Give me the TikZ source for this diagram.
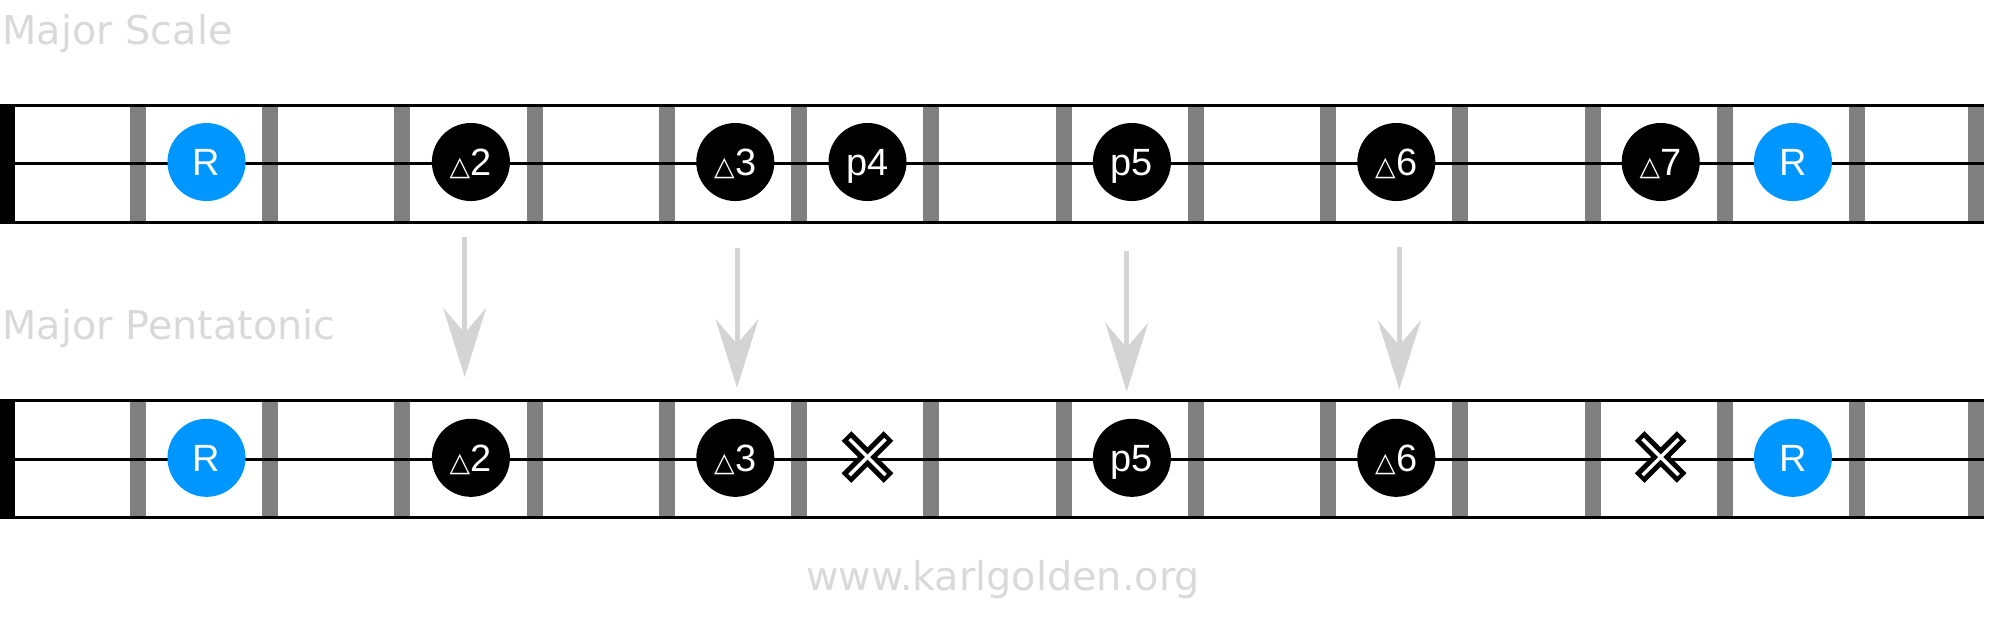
\documentclass[tikz,border=0pt]{standalone}
\usepackage{fontspec}
\setmainfont{Liberation Sans}
\newfontfamily\labelfont{DejaVu Sans}
\newfontfamily\trifont{DejaVu Sans}
\usetikzlibrary{arrows.meta}
\definecolor{rootblue}{RGB}{0,150,255}
\definecolor{fretgray}{RGB}{128,128,128}
\definecolor{lightgray}{RGB}{217,217,217}
\definecolor{arrowgray}{RGB}{212,212,212}
\newcommand\tri{{\trifont\fontsize{7.6pt}{8pt}\selectfont △}\kern0.2pt}
\begin{document}
\begin{tikzpicture}[x=0.01cm,y=-0.01cm,
  string/.style={line width=0.854pt, black},
  fret/.style={fretgray, line width=4.55pt},
  note/.style={circle, fill=black, minimum size=0.78cm, inner sep=0pt, text=white,
    font=\fontsize{10.8pt}{12pt}\selectfont, text height=7.75pt, text depth=0pt},
  root/.style={note, fill=rootblue},
  title/.style={anchor=base west, inner sep=0pt, text=lightgray,
    font=\labelfont\fontsize{11.3pt}{13pt}\selectfont},
  down/.style={arrowgray, line width=1.42pt, -{Stealth[length=6.9mm,width=4.3mm,inset=2.5mm]}},
  muteouter/.style={line width=3.9pt, black},
  muteinner/.style={line width=1pt, white},
]
\useasboundingbox (0,0) rectangle (2000,623);

% fretboards
\foreach \T in {105,400.8}{
  \foreach \k in {0,...,13}{
    \draw[fret] ({138+132.23*\k},\T) -- ({138+132.23*\k},\T+117);
  }
  \draw[fret] (1976.3,\T) -- (1976.3,\T+117);
  \fill[black] (0,\T) rectangle (15,\T+117);
  \draw[string] (0,\T) -- (1984,\T);
  \draw[string] (0,\T+58.5) -- (1984,\T+58.5);
  \draw[string] (0,\T+117) -- (1984,\T+117);
}

% titles
\node[title] (t1) at (2,44.5) {Major Scale};
\node[title] (t2) at (2,339.5) {Major Pentatonic};
\node[title, anchor=base] (url) at (1003,590) {www.karlgolden.org};

% top row notes (y = 162)
\node[root] (s1) at ({206.5+132.2*0},162) {R};
\node[note] (s2) at ({206.5+132.2*2},162) {\tri2};
\node[note] (s3) at ({206.5+132.2*4},162) {\tri3};
\node[note] (s4) at ({206.5+132.2*5},162) {p4};
\node[note] (s5) at ({206.5+132.2*7},162) {p5};
\node[note] (s6) at ({206.5+132.2*9},162) {\tri6};
\node[note] (s7) at ({206.5+132.2*11},162) {\tri7};
\node[root] (s8) at ({206.5+132.2*12},162) {R};

% bottom row notes (y = 457.8)
\node[root] (p1) at ({206.5+132.2*0},457.8) {R};
\node[note] (p2) at ({206.5+132.2*2},457.8) {\tri2};
\node[note] (p3) at ({206.5+132.2*4},457.8) {\tri3};
\node[note] (p5) at ({206.5+132.2*7},457.8) {p5};
\node[note] (p6) at ({206.5+132.2*9},457.8) {\tri6};
\node[root] (p8) at ({206.5+132.2*12},457.8) {R};

% muted markers
\coordinate (m4) at ({206.5+132.2*5},457);
\coordinate (m7) at ({206.5+132.2*11},457);
\foreach \m in {m4,m7}{
  \draw[muteouter] ([shift={(-21,-21)}]\m) -- ([shift={(21,21)}]\m);
  \draw[muteouter] ([shift={(-21,21)}]\m) -- ([shift={(21,-21)}]\m);
  \draw[muteinner] ([shift={(-18,-18)}]\m) -- ([shift={(18,18)}]\m);
  \draw[muteinner] ([shift={(-18,18)}]\m) -- ([shift={(18,-18)}]\m);
}

% arrows
\coordinate (a1s) at (464.7,236.7); \coordinate (a1e) at (464.7,377);
\coordinate (a2s) at (737,247.7);   \coordinate (a2e) at (737,388);
\coordinate (a3s) at (1126.7,250.7);\coordinate (a3e) at (1126.7,391.7);
\coordinate (a4s) at (1399.3,247.3);\coordinate (a4e) at (1399.3,389.3);
\draw[down] (a1s) -- (a1e);
\draw[down] (a2s) -- (a2e);
\draw[down] (a3s) -- (a3e);
\draw[down] (a4s) -- (a4e);
\end{tikzpicture}
\end{document}
